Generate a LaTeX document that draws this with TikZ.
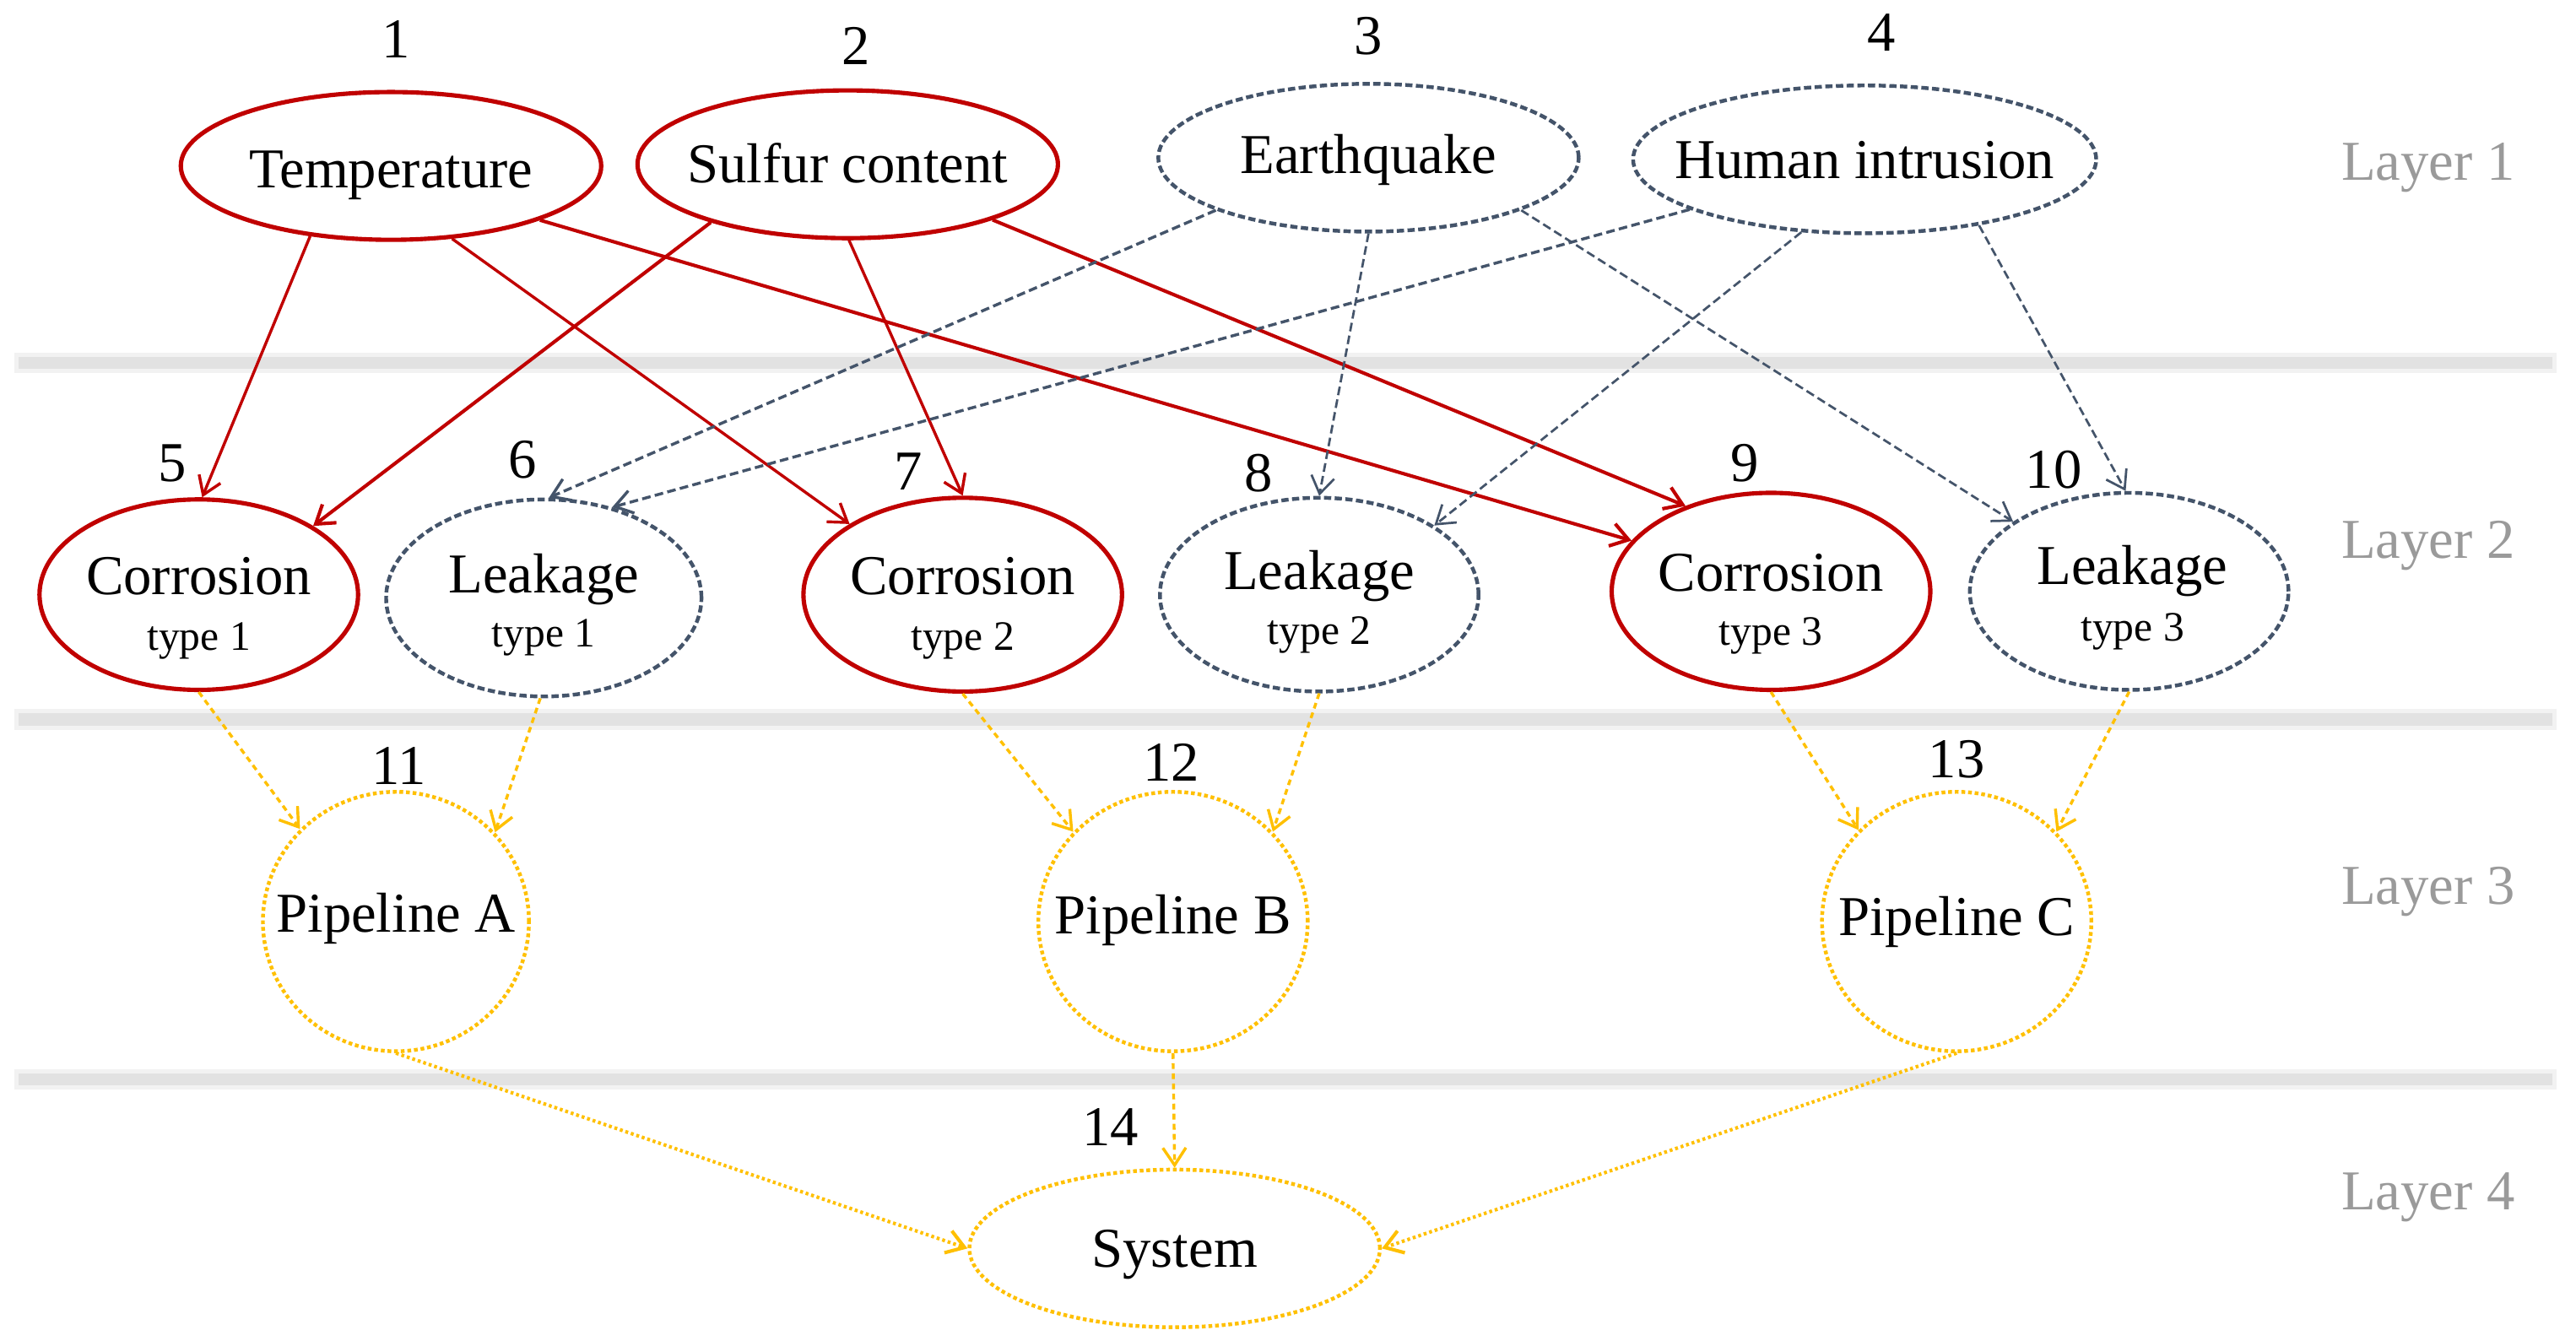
\documentclass[tikz,border=0pt]{standalone}
\usepackage{fontspec}
\setmainfont{Liberation Serif}
\usetikzlibrary{arrows.meta,shapes.geometric}
\definecolor{cred}{HTML}{C00000}
\definecolor{cgray}{HTML}{44546A}
\definecolor{cgold}{HTML}{FFC000}
\definecolor{cband}{HTML}{E2E2E2}
\definecolor{clayer}{HTML}{9A9A9A}
\tikzset{
  el/.style 2 args={ellipse, inner sep=0pt, minimum width=#1*0.04cm, minimum height=#2*0.04cm},
  rednode/.style={draw=cred, line width=1.5pt},
  graynode/.style={draw=cgray, line width=1.3pt, dash pattern=on 2.5pt off 1.2pt},
  goldnode/.style={draw=cgold, line width=1.3pt, densely dotted},
  bigtxt/.style={font=\fontsize{19.5}{22}\selectfont, inner sep=0pt, text height=17pt, text depth=4pt},
  smalltxt/.style={font=\fontsize{14.5}{16}\selectfont, inner sep=0pt, anchor=base},
  maintxt/.style={font=\fontsize{19.5}{22}\selectfont, inner sep=0pt, anchor=base},
  numtxt/.style={font=\fontsize{19.5}{22}\selectfont, inner sep=0pt},
  layertxt/.style={font=\fontsize{19.5}{22}\selectfont, inner sep=0pt, text=clayer},
  redarrow/.style={draw=cred, line width=1pt, -{Straight Barb[length=6pt,width=8pt]}},
  grayarrow/.style={draw=cgray, line width=0.8pt, dash pattern=on 3pt off 1.5pt, -{Straight Barb[length=6pt,width=8pt]}},
  goldarrow/.style={draw=cgold, line width=1pt, dash pattern=on 2pt off 1.5pt, -{Straight Barb[length=6pt,width=8pt]}},
  band/.style={fill=cband, draw=black!5, line width=1.5pt}
}
\begin{document}
\begin{tikzpicture}[x=0.02cm, y=-0.02cm]
\useasboundingbox[fill=white] (0,0) rectangle (1568,816);
% layer separators
\fill[band] (10,216) rectangle (1555,226);
\fill[band] (10,433) rectangle (1555,443);
\fill[band] (10,652) rectangle (1555,662);
% layer labels
\node[layertxt] (lay1) at (1478,102) {Layer 1};
\node[layertxt] (lay2) at (1478,332) {Layer 2};
\node[layertxt] (lay3) at (1478,543) {Layer 3};
\node[layertxt] (lay4) at (1478,729) {Layer 4};
% layer 1
\node[el={128}{45}, rednode, label={[bigtxt, yshift=-0.04cm]center:Temperature}] (n1) at (238,101) {};
\node[el={128}{45}, rednode, label={[bigtxt]center:Sulfur content}] (n2) at (516,100) {};
\node[el={128}{45}, graynode, label={[bigtxt, yshift=0.04cm]center:Earthquake}] (n3) at (833,96) {};
\node[el={141}{45}, graynode, label={[bigtxt]center:Human intrusion}] (n4) at (1135,97) {};
\node[numtxt] (k1) at (241,24) {1};
\node[numtxt] (k2) at (521,28) {2};
\node[numtxt] (k3) at (833,22) {3};
\node[numtxt] (k4) at (1145,20) {4};
% layer 2
\node[el={97}{58}, rednode] (n5) at (121,362) {};
\node[el={96}{60}, graynode] (n6) at (331,364) {};
\node[el={97}{59}, rednode] (n7) at (586,362) {};
\node[el={97}{59}, graynode] (n8) at (803,362) {};
\node[el={97}{60}, rednode] (n9) at (1078,360) {};
\node[el={97}{60}, graynode] (n10) at (1296,360) {};
\node[maintxt] (t5a) at (121,362) {Corrosion};
\node[smalltxt] (t5b) at (121,396) {type 1};
\node[maintxt] (t6a) at (331,361) {Leakage};
\node[smalltxt] (t6b) at (331,394) {type 1};
\node[maintxt] (t7a) at (586,362) {Corrosion};
\node[smalltxt] (t7b) at (586,396) {type 2};
\node[maintxt] (t8a) at (803,359) {Leakage};
\node[smalltxt] (t8b) at (803,392) {type 2};
\node[maintxt] (t9a) at (1078,360) {Corrosion};
\node[smalltxt] (t9b) at (1078,393) {type 3};
\node[maintxt] (t10a) at (1298,356) {Leakage};
\node[smalltxt] (t10b) at (1298,390) {type 3};
\node[numtxt] (k5) at (105,282) {5};
\node[numtxt] (k6) at (318,280) {6};
\node[numtxt] (k7) at (553,287) {7};
\node[numtxt] (k8) at (766,288) {8};
\node[numtxt] (k9) at (1062,282) {9};
\node[numtxt] (k10) at (1250,286) {10};
% layer 3
\node[el={81}{79}, goldnode, label={[bigtxt, yshift=0.1cm]center:Pipeline A}] (n11) at (241,561) {};
\node[el={82}{79}, goldnode, label={[bigtxt, yshift=0.08cm]center:Pipeline B}] (n12) at (714,561) {};
\node[el={82}{79}, goldnode, label={[bigtxt, yshift=0.06cm]center:Pipeline C}] (n13) at (1191,561) {};
\node[numtxt] (k11) at (243,466) {11};
\node[numtxt] (k12) at (713,464) {12};
\node[numtxt] (k13) at (1191,462) {13};
% layer 4
\node[el={125}{48}, goldnode, label={[bigtxt]center:System}] (n14) at (715,760) {};
\node[numtxt] (k14) at (676,686) {14};
% red connectors
\draw[redarrow] (n1.-139) -- (n5.88);
\draw[redarrow] (n1.-50) -- (n7.148);
\draw[redarrow, line width=1.2pt] (n1.-20) -- (n9.160);
\draw[redarrow, line width=1.2pt] (n2.-157) -- (n5.31);
\draw[redarrow] (n2.-89) -- (n7.90);
\draw[redarrow, line width=1.2pt] (n2.-21) -- (n9.135);
% gray connectors
\draw[grayarrow, line width=1pt] (n3.-161) -- (n6.87);
\draw[grayarrow, line width=1pt] (n4.-164) -- (n6.53);
\draw[grayarrow] (n3.-90) -- (n8.90);
\draw[grayarrow] (n4.-131) -- (n8.31);
\draw[grayarrow] (n3.-19) -- (n10.149);
\draw[grayarrow] (n4.-30) -- (n10.92);
% gold connectors
\draw[goldarrow] (n5.-90) -- (n11.136);
\draw[goldarrow] (n6.-92) -- (n11.42);
\draw[goldarrow] (n7.-90) -- (n12.138);
\draw[goldarrow] (n8.-90) -- (n12.42);
\draw[goldarrow] (n9.-90) -- (n13.137);
\draw[goldarrow] (n10.-90) -- (n13.42);
\draw[goldarrow, densely dotted, line width=1.2pt] (n11.-90) -- (n14.180);
\draw[goldarrow] (n12.-90) -- (n14.90);
\draw[goldarrow, densely dotted, line width=1.2pt] (n13.-90) -- (n14.0);
\end{tikzpicture}
\end{document}
